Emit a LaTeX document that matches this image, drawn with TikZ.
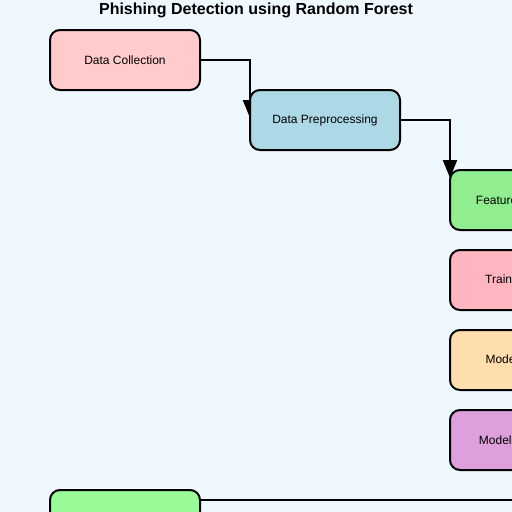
\documentclass[tikz,border=0pt]{standalone}
\usepackage{fontspec}
\setmainfont{Liberation Sans}
\usetikzlibrary{arrows.meta}
\definecolor{bgc}{HTML}{F0F8FF}
\definecolor{cA}{HTML}{FFCCCB}
\definecolor{cB}{HTML}{ADD8E6}
\definecolor{cC}{HTML}{90EE90}
\definecolor{cD}{HTML}{FFB6C1}
\definecolor{cE}{HTML}{FFDEAD}
\definecolor{cF}{HTML}{DDA0DD}
\definecolor{cG}{HTML}{98FB98}
\tikzset{
  stepbox/.style={draw=black, line width=2pt, rounded corners=10pt, minimum width=150pt, minimum height=60pt, inner sep=0pt, outer sep=0pt, font=\fontsize{12pt}{14pt}\selectfont, anchor=north west},
  conn/.style={draw=black, line width=2pt},
  arr/.style={conn, -{Triangle[length=18pt,width=14pt]}}
}
\newcommand{\lbl}[1]{\raisebox{-1pt}{#1}}
\begin{document}
\begin{tikzpicture}[x=1pt,y=-1pt]
\useasboundingbox (0,0) rectangle (512,512);
\clip (0,0) rectangle (512,512);
\fill[bgc] (0,0) rectangle (512,512);
\node[font=\bfseries\fontsize{16pt}{18pt}\selectfont] (title) at (256,10) {Phishing Detection using Random Forest};
\node[stepbox, fill=cA] (dc) at (50,30) {\lbl{Data Collection}};
\draw[arr] (dc.east) -| ([yshift=-28pt]250,90) coordinate (t1);
\node[stepbox, fill=cB] (dp) at (250,90) {\lbl{Data Preprocessing}};
\node[stepbox, fill=cC] (fe) at (450,170) {\lbl{Feature Extraction}};
\draw[arr] (dp.east) -| ([yshift=-8pt]fe.north west);
\node[stepbox, fill=cD] (ts) at (450,250) {\lbl{Train-Test Split}};
\node[stepbox, fill=cE] (mt) at (450,330) {\lbl{Model Training}};
\node[stepbox, fill=cF] (me) at (450,410) {\lbl{Model Evaluation}};
\node[stepbox, fill=cG] (dep) at (50,490) {\lbl{Deployment}};
\coordinate (lineend) at (620,500);
\draw[conn] ([yshift=-10pt]dep.north east) -- (lineend);
\end{tikzpicture}
\end{document}
